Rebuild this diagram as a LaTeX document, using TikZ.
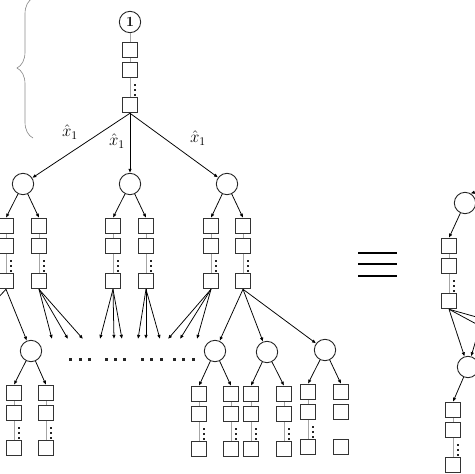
\documentclass[tikz,border=0pt]{standalone}
\usepackage{tikz}
\usepackage{amsmath}
\usetikzlibrary{arrows.meta, decorations.pathreplacing}

% coluna de caixas: nome, x, y do topo
\newcommand{\coluna}[3]{%
  \node[caixa] (#1a) at (#2,#3) {};
  \node[caixa] (#1b) at (#2,#3+20) {};
  \node[caixa] (#1c) at (#2,#3+55) {};
  \draw[fio] (#1a) -- (#1b);
  \draw[fio] (#1b) -- (#1c);
  \foreach \k in {0,1,2}
    \node[pontinho] (#1p\k) at (#2+5,#3+35+5*\k) {};
}
% coluna sem linha nem pontos
\newcommand{\colunavazia}[3]{%
  \node[caixa] (#1a) at (#2,#3) {};
  \node[caixa] (#1b) at (#2,#3+20) {};
  \node[caixa] (#1c) at (#2,#3+55) {};
}

\begin{document}
\begin{tikzpicture}[x=0.03cm, y=-0.03cm,
    caixa/.style={draw=black!80, fill=white, line width=1pt, minimum size=0.46cm, inner sep=0pt},
    bola/.style={circle, draw=black!85, fill=white, line width=0.75pt, minimum size=0.64cm, inner sep=0pt},
    seta/.style={-{Latex[length=3.5pt,width=3pt]}, line width=0.65pt},
    fio/.style={black!35, line width=0.6pt},
    pontinho/.style={fill=black!85, minimum size=0.05cm, inner sep=0pt},
    rotulo/.style={font=\Large, inner sep=1pt}]
        \useasboundingbox (0,0) rectangle (474,474);

        % chave
        \draw[black!45, line width=0.55pt, decorate, decoration={brace, amplitude=0.48cm}] (33,138) -- (33,-2);

        % raiz
        \node[bola, font=\large\bfseries] (raiz) at (130,22) {1};
        \coluna{r}{130}{50}
        \draw[fio] (raiz) -- (ra);

        % primeiro nivel
        \node[bola] (n1) at (23,184) {};
        \node[bola] (n2) at (130,184) {};
        \node[bola] (n3) at (227,184) {};
        \draw[seta] (rc.south) -- (n1);
        \draw[seta] (rc.south) -- (n2);
        \draw[seta] (rc.south) -- (n3);
        \node[rotulo] (x1) at (70,132) {$\hat{x}_1$};
        \node[rotulo] (x2) at (117,141) {$\hat{x}_1$};
        \node[rotulo] (x3) at (198,138) {$\hat{x}_1$};

        \coluna{a}{6}{226}
        \coluna{b}{39}{226}
        \coluna{c}{113}{226}
        \coluna{d}{146}{226}
        \coluna{e}{211}{226}
        \coluna{f}{243}{226}
        \draw[seta] (n1) -- (aa.north);
        \draw[seta] (n1) -- (ba.north);
        \draw[seta] (n2) -- (ca.north);
        \draw[seta] (n2) -- (da.north);
        \draw[seta] (n3) -- (ea.north);
        \draw[seta] (n3) -- (fa.north);

        % setas soltas
        \foreach \x [count=\i] in {52,68,83,100,114,122,138,146,160,168,180,197}
            \coordinate (t\i) at (\x,339);
        \foreach \i in {1,2,3} \draw[seta] (bc.south) -- (t\i);
        \foreach \i in {4,5,6} \draw[seta] (cc.south) -- (t\i);
        \foreach \i in {7,8,9} \draw[seta] (dc.south) -- (t\i);
        \foreach \i in {10,11,12} \draw[seta] (ec.south) -- (t\i);
        \coordinate (fora0) at (-4,300);
        \draw[line width=0.65pt] (ac.south) -- (fora0);

        % reticencias
        \foreach \x [count=\i] in {70,80,89,106,115,124,142,151,161,174,183,193}
            \node[pontinho, minimum size=0.09cm] (q\i) at (\x,359) {};

        % segundo nivel
        \node[bola] (s1) at (31,351) {};
        \node[bola] (s2) at (215,351) {};
        \node[bola] (s3) at (267,352) {};
        \node[bola] (s4) at (325,350) {};
        \draw[seta] (ac.south) -- (s1);
        \draw[seta] (fc.south) -- (s2);
        \draw[seta] (fc.south) -- (s3);
        \draw[seta] (fc.south) -- (s4);

        \coluna{g}{14}{393}
        \coluna{h}{46}{393}
        \coluna{i}{199}{394}
        \coluna{j}{231}{394}
        \coluna{k}{251}{394}
        \coluna{l}{284}{394}
        \coluna{m}{308}{392}
        \colunavazia{n}{341}{392}
        \draw[seta] (s1) -- (ga.north);
        \draw[seta] (s1) -- (ha.north);
        \draw[seta] (s2) -- (ia.north);
        \draw[seta] (s2) -- (ja.north);
        \draw[seta] (s3) -- (ka.north);
        \draw[seta] (s3) -- (la.north);
        \draw[seta] (s4) -- (ma.north);
        \draw[seta] (s4) -- (na.north);

        % igual
        \draw[line width=1.7pt] (358,253) -- (397,253);
        \draw[line width=1.7pt] (358,264) -- (397,264);
        \draw[line width=1.7pt] (358,276) -- (397,276);

        % lado direito
        \node[bola] (u1) at (465,203) {};
        \node[bola] (u2) at (468,367) {};
        \coluna{v}{449}{246}
        \coluna{w}{453}{410}
        \draw[seta] (u1) -- (va.north);
        \draw[seta] (u2) -- (wa.north);
        \draw[seta] (vc.south) -- (u2);
        \coordinate (o1) at (480,318);
        \coordinate (o2) at (480,326);
        \coordinate (o3) at (478,333);
        \coordinate (o4) at (482,190);
        \draw[line width=0.65pt] (vc.south) -- (o1);
        \draw[line width=0.65pt] (vc.south) -- (o2);
        \draw[seta] (o3) -- (u2);
        \draw[seta] (o4) -- (u1.60);
    \end{tikzpicture}
\end{document}
